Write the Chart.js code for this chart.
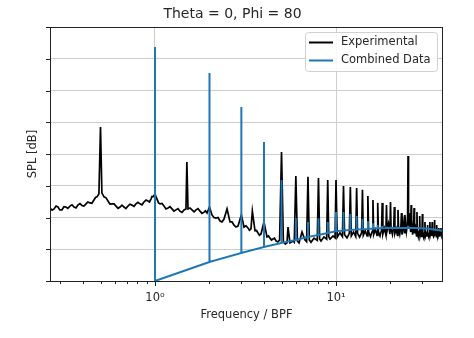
<!DOCTYPE html>
<html>
<head>
<meta charset="utf-8">
<script src="https://cdn.jsdelivr.net/npm/chart.js@4.4.0/dist/chart.umd.min.js"></script>
<style>
  html, body { margin: 0; padding: 0; background: #fff; }
  canvas { display: block; }
</style>
</head>
<body>
<canvas id="spectrumChart" width="474" height="338"></canvas>
<script>
// broadband part of the measured spectrum (frequency normalised by BPF)
const expFreq = [
  0.263, 0.277, 0.291, 0.306, 0.322, 0.339, 0.357, 0.375, 0.395, 0.416,
  0.437, 0.460, 0.478, 0.490, 0.509, 0.523, 0.550, 0.579, 0.609, 0.641,
  0.674, 0.709, 0.746, 0.785, 0.826, 0.869, 0.915, 0.950, 0.975, 1.0,
  1.026, 1.066, 1.121, 1.180, 1.241, 1.306, 1.374, 1.446, 1.483, 1.522,
  1.601, 1.685, 1.773, 1.865, 1.938, 2.065, 2.173, 2.287, 2.406, 2.597,
  2.733, 2.875, 3.103, 3.265, 3.391, 3.568, 3.708, 3.851, 4.157, 4.320,
  4.487, 4.661, 4.88, 5.12, 5.25, 5.362, 5.57, 5.786, 5.88, 6.12,
  6.246, 6.741, 6.88, 7.12, 7.275, 7.557, 7.88, 8.12, 8.262, 8.583,
  8.88, 9.12, 9.266, 9.625, 9.88,
  10.15, 10.5, 10.85, 11.15, 11.5, 11.85, 12.15, 12.5, 12.85,
  13.15, 13.5, 13.85, 14.15, 14.5, 14.85, 15.15, 15.5, 15.85,
  16.15, 16.5, 16.85, 17.15, 17.5, 17.85, 18.15, 18.5, 18.85,
  19.15, 19.5, 19.85, 20.15, 20.5, 20.85, 21.15, 21.5, 21.85,
  22.15, 22.5, 22.85, 23.15, 23.5, 23.85, 24.15, 24.5, 24.85,
  25.15, 25.5, 25.85, 26.15, 26.5, 26.85, 27.15, 27.5, 27.85,
  28.15, 28.5, 28.85, 29.15, 29.5, 29.85, 30.15, 30.5, 30.85,
  31.15, 31.5, 31.85, 32.15, 32.5, 32.85, 33.15, 33.5, 33.85,
  34.15, 34.5, 34.85, 35.15, 35.5, 35.85, 36.15, 36.5, 36.85,
  37.15, 37.5, 37.85, 38.15, 38.5, 38.85, 39.15,
  // in-between bins below 5 BPF
  0.270, 0.284, 0.298, 0.314, 0.330, 0.348, 0.366, 0.385, 0.405, 0.426,
  0.448, 0.469, 0.536, 0.564, 0.594, 0.625, 0.657, 0.691, 0.727, 0.765,
  0.805, 0.847, 0.892, 0.932, 0.962, 1.046, 1.093, 1.150, 1.210, 1.273,
  1.340, 1.410, 1.561, 1.643, 1.729, 1.818, 1.900, 2.118, 2.229, 2.346,
  2.665, 2.803, 3.183, 3.327, 3.637, 3.779, 4.239, 4.403, 4.573, 4.770
];
const expLevel = [
  23.0, 22.7, 23.3, 22.4, 23.3, 23.6, 23.3, 23.9, 23.8, 24.3,
  24.6, 25.5, 26.5, 27.4, 27.7, 26.5, 25.2, 24.3, 23.6, 23.3,
  23.3, 23.6, 23.9, 24.3, 24.3, 24.9, 25.2, 25.8, 26.5, 27.4,
  25.8, 24.3, 23.6, 23.0, 22.7, 22.4, 22.0, 22.4, 22.7, 22.7,
  22.4, 22.4, 22.0, 21.7, 21.4, 20.8, 19.8, 18.9, 19.5, 18.6,
  17.6, 17.3, 17.0, 16.7, 16.4, 15.8, 15.1, 14.8, 13.9, 13.5,
  13.2, 12.6, 12.9, 12.3, 11.6, 12.0, 12.0, 12.6, 12.2, 12.6,
  12.0, 12.9, 12.4, 12.9, 12.2, 13.5, 12.8, 13.2, 12.6, 13.9,
  13.2, 13.9, 13.2, 14.2, 13.6,
  13.8, 15.2, 14.0, 14.6, 13.6, 15.0, 14.2, 15.4, 14.0,
  15.0, 13.8, 15.2, 14.4, 15.8, 14.2, 15.4, 14.0, 15.6,
  14.6, 16.2, 14.4, 15.6, 14.2, 16.0, 14.8, 16.6, 14.6,
  15.8, 18.0, 14.8, 16.4, 14.6, 17.2, 15.0, 16.4, 14.4,
  16.8, 14.8, 17.6, 14.6, 18.4, 15.2, 19.6, 15.6, 18.2,
  17.0, 21.4, 15.4, 19.4, 14.6, 17.8, 15.0, 16.6, 14.2,
  16.0, 14.0, 15.6, 14.2, 15.4, 13.8, 15.0, 13.8, 15.2,
  14.0, 15.0, 14.2, 15.4, 14.0, 15.0, 14.4, 15.6, 14.2,
  15.0, 14.2, 15.4, 14.6, 15.2, 14.0, 15.0, 14.4, 15.4,
  14.2, 15.0, 14.6, 15.2, 14.4, 15.0, 14.8,
  22.3, 23.6, 22.4, 23.4, 22.9, 24.0, 23.0, 24.4, 23.6, 24.9,
  24.5, 26.3, 26.2, 24.2, 24.3, 22.9, 23.9, 22.8, 24.2, 23.5,
  24.8, 24.0, 25.5, 24.9, 26.6, 24.6, 24.4, 22.7, 23.4, 22.0,
  22.8, 21.6, 23.0, 21.8, 22.8, 21.3, 22.1, 20.0, 20.0, 18.6,
  18.6, 17.0, 17.4, 16.0, 15.9, 14.4, 14.2, 12.9, 13.5, 12.3
];

// tonal peaks of the measured spectrum
const expPeakFreq = [
  0.5, 1.5, 2, 2.5, 3, 3.45, 4, 5, 5.43, 6, 6.49, 7, 8, 9, 10,
  11, 12, 13, 14, 15, 16, 17, 18, 19, 20, 21, 22, 23, 24, 25,
  26, 27, 28, 29, 30, 31, 32, 33, 34, 35, 36, 37, 38, 39
];
const expPeakLevel = [
  48.5, 37.5, 23.3, 22.7, 20.8, 22.0, 18.6, 40.6, 17.0, 33.1, 15.4, 32.8, 32.4, 31.8, 31.8,
  29.9, 29.6, 29.3, 28.7, 26.8, 25.5, 24.6, 24.6, 23.9, 24.9, 23.3, 22.4, 21.4, 20.8, 39.4,
  23.9, 23.0, 21.7, 20.5, 21.1, 18.6, 17.6, 18.6, 18.6, 19.2, 17.6, 16.7, 16.7, 16.4
];

// combined prediction: tonal level and broadband floor at each harmonic
const harmonics = [
  1, 2, 3, 4, 5, 6, 7, 8, 9, 10, 11, 12, 13, 14, 15, 16, 17, 18, 19, 20,
  21, 22, 23, 24, 25, 26, 27, 28, 29, 30, 31, 32, 33, 34, 35, 36, 37, 38, 39
];
const combinedTonal = [
  73.7, 65.5, 54.8, 43.8, 31.8, 19.8, 18.6, 19.8, 18.6, 21.7, 21.7, 21.1, 20.5, 19.6, 18.8, 18.2, 17.6, 17.3, 17.2, 17.1,
  17.0, 17.0, 17.0, 17.0, 17.4, 17.0, 17.0, 16.9, 16.8, 16.8, 16.7, 16.7, 16.6, 16.5, 16.4, 16.3, 16.2, 16.1, 16.0
];
const combinedBroadband = [
  0.0, 6.0, 8.8, 10.7, 12.0, 12.9, 13.9, 14.5, 15.1, 15.7, 15.9, 16.1, 16.2, 16.3, 16.4, 16.5, 16.6, 16.6, 16.7, 16.7,
  16.7, 16.7, 16.7, 16.7, 16.7, 16.7, 16.7, 16.7, 16.6, 16.6, 16.5, 16.5, 16.4, 16.3, 16.2, 16.1, 16.0, 15.9, 15.8
];

// axis ticks
const xMajorTicks = [1, 10];
const xMajorLabels = ['10\u2070', '10\u00B9'];
const xMinorTicks = [0.3, 0.4, 0.5, 0.6, 0.7, 0.8, 0.9, 2, 3, 4, 5, 6, 7, 8, 9, 20, 30];
const yTickValues = [0, 10, 20, 30, 40, 50, 60, 70, 80];

const FONT = "'DejaVu Sans', 'Liberation Sans', sans-serif";
const TEXT = '#262626';
const GRID = '#cdcdcd';

Chart.defaults.font.family = FONT;
Chart.defaults.color = TEXT;

// merge broadband and peaks into one trace
const expPoints = expFreq.map((f, i) => ({ x: f, y: expLevel[i] }))
  .concat(expPeakFreq.map((f, i) => ({ x: f, y: expPeakLevel[i] })))
  .sort((a, b) => a.x - b.x);

// each harmonic is a vertical spike from the floor up to the tonal level
const combinedPoints = [];
harmonics.forEach((h, i) => {
  combinedPoints.push({ x: h, y: combinedBroadband[i] });
  combinedPoints.push({ x: h, y: combinedTonal[i] });
  combinedPoints.push({ x: h, y: combinedBroadband[i] });
});

// frame, tick marks and legend drawn the matplotlib way
const axisDecor = {
  id: 'axisDecor',
  afterDraw(chart) {
    const { ctx, chartArea: a, scales: { x, y } } = chart;
    ctx.save();
    ctx.strokeStyle = '#222';
    ctx.lineWidth = 1;
    ctx.beginPath();
    yTickValues.forEach(v => {
      const py = Math.round(y.getPixelForValue(v)) + 0.5;
      ctx.moveTo(a.left - 4, py);
      ctx.lineTo(a.left, py);
    });
    xMajorTicks.forEach(v => {
      const px = Math.round(x.getPixelForValue(v)) + 0.5;
      ctx.moveTo(px, a.bottom);
      ctx.lineTo(px, a.bottom + 5);
    });
    xMinorTicks.forEach(v => {
      const px = Math.round(x.getPixelForValue(v)) + 0.5;
      ctx.moveTo(px, a.bottom);
      ctx.lineTo(px, a.bottom + 3);
    });
    ctx.stroke();
    ctx.strokeRect(Math.round(a.left) + 0.5, Math.round(a.top) + 0.5,
      Math.round(a.right - a.left) - 1, Math.round(a.bottom - a.top));

    // legend box in the upper right corner
    const sets = chart.data.datasets;
    const boxW = 132, boxH = 39;
    const bx = a.right - 6 - boxW, by = a.top + 5;
    ctx.beginPath();
    ctx.roundRect(bx + 0.5, by + 0.5, boxW, boxH, 3);
    ctx.fillStyle = 'rgba(255,255,255,0.85)';
    ctx.fill();
    ctx.strokeStyle = '#d0d0d0';
    ctx.stroke();
    ctx.font = '11.5px ' + FONT;
    ctx.textBaseline = 'middle';
    ctx.fillStyle = TEXT;
    sets.forEach((ds, i) => {
      const ly = by + 10.5 + i * 18;
      ctx.beginPath();
      ctx.strokeStyle = ds.borderColor;
      ctx.lineWidth = 2;
      ctx.moveTo(bx + 4, ly);
      ctx.lineTo(bx + 28, ly);
      ctx.stroke();
      ctx.fillText(ds.label, bx + 36, ly);
    });
    ctx.restore();
  }
};

new Chart(document.getElementById('spectrumChart').getContext('2d'), {
  type: 'scatter',
  data: {
    datasets: [
      {
        label: 'Experimental',
        data: expPoints,
        showLine: true,
        borderColor: '#000000',
        borderWidth: 1.7,
        pointRadius: 0,
        order: 2
      },
      {
        label: 'Combined Data',
        data: combinedPoints,
        showLine: true,
        borderColor: '#1f77b4',
        borderWidth: 2,
        pointRadius: 0,
        order: 1
      }
    ]
  },
  options: {
    responsive: false,
    devicePixelRatio: 1,
    animation: false,
    layout: { padding: { left: 22, right: 31, top: 0, bottom: 12 } },
    plugins: {
      legend: { display: false },
      tooltip: { enabled: false },
      title: {
        display: true,
        text: 'Theta = 0, Phi = 80',
        color: TEXT,
        font: { size: 14, weight: 'normal' },
        padding: { top: 6, bottom: 4.2 }
      }
    },
    scales: {
      x: {
        type: 'logarithmic',
        min: 0.263,
        max: 39,
        afterFit: s => { s.height = 45; },
        border: { display: false },
        grid: {
          drawTicks: false,
          color: c => xMajorTicks.includes(c.tick && c.tick.value) ? GRID : 'rgba(0,0,0,0)'
        },
        ticks: {
          autoSkip: false,
          maxRotation: 0,
          padding: 10,
          font: { size: 11.5 },
          callback: v => {
            const k = xMajorTicks.indexOf(v);
            return k >= 0 ? xMajorLabels[k] : '';
          }
        },
        title: { display: true, text: 'Frequency / BPF', font: { size: 11.5 }, padding: { top: 4, bottom: 4 } }
      },
      y: {
        min: 0,
        max: 80,
        afterFit: s => { s.width = 28; },
        border: { display: false },
        grid: {
          drawTicks: false,
          color: c => (c.tick && c.tick.value > 0 && c.tick.value < 80) ? GRID : 'rgba(0,0,0,0)'
        },
        ticks: { display: false, stepSize: 10 },
        title: { display: true, text: 'SPL [dB]', font: { size: 11.5 }, padding: { top: 4, bottom: 4 } }
      }
    }
  },
  plugins: [axisDecor]
});
</script>
</body>
</html>
